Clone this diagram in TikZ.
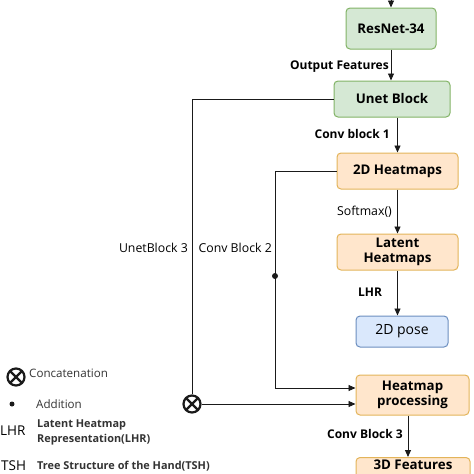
\documentclass[tikz,border=0pt]{standalone}
\usepackage{fontspec}
\setmainfont{Open Sans}
\usetikzlibrary{positioning,arrows.meta}

\definecolor{greenfill}{HTML}{D5E8D4}
\definecolor{greendraw}{HTML}{82B366}
\definecolor{orangefill}{HTML}{FFE6CC}
\definecolor{orangedraw}{HTML}{E3B45A}
\definecolor{bluefill}{HTML}{DAE8FC}
\definecolor{bluedraw}{HTML}{6C8EBF}
\definecolor{inkline}{HTML}{1A1A1A}

\begin{document}
\begin{tikzpicture}[
  x=1pt,y=-1pt,
  blockbox/.style={rectangle,rounded corners=4pt,draw,line width=1pt,
                   font=\fontsize{13.3}{15}\selectfont\bfseries,align=center,inner sep=2pt},
  greenbox/.style={blockbox,fill=greenfill,draw=greendraw},
  orangebox/.style={blockbox,fill=orangefill,draw=orangedraw},
  bluebox/.style={blockbox,fill=bluefill,draw=bluedraw,font=\fontsize{14}{16}\selectfont},
  arr/.style={-{Triangle[length=7pt,width=6pt]},line width=0.9pt,draw=inkline},
  wire/.style={line width=0.9pt,draw=inkline},
  edgelabel/.style={font=\fontsize{12}{14}\selectfont\bfseries,anchor=east,inner sep=1pt},
  sidelabel/.style={font=\fontsize{12.3}{14}\selectfont,anchor=east,inner sep=1pt},
  concat/.style={circle,draw=inkline,line width=2.2pt,minimum size=17pt,inner sep=0pt,
                 path picture={\draw[line width=2.2pt,inkline]
                   (path picture bounding box.north west) -- (path picture bounding box.south east)
                   (path picture bounding box.north east) -- (path picture bounding box.south west);}},
  addn/.style={circle,fill=inkline,minimum size=6pt,inner sep=0pt},
  legendtext/.style={font=\fontsize{11.6}{13}\selectfont,text=black!80,anchor=west,inner sep=0pt},
  legendabbr/.style={font=\fontsize{13.5}{15}\selectfont,anchor=west,inner sep=0pt},
  legendnote/.style={font=\fontsize{10.9}{15}\selectfont\bfseries,text=black!80,anchor=west,
                     align=left,inner sep=0pt},
]
\useasboundingbox (0,0) rectangle (474,474);

% Main blocks
\coordinate (input) at (391,-4);
\node[greenbox,minimum width=90pt,minimum height=41pt] (resnet) at (391,28.5) {ResNet-34};
\node[greenbox,minimum width=116pt,minimum height=36pt] (unet) at (392,99) {Unet Block};
\node[orangebox,minimum width=121pt,minimum height=36pt] (heat2d) at (397.5,171) {2D Heatmaps};
\node[orangebox,minimum width=121pt,minimum height=36pt] (latent) at (397.5,252) {Latent\\Heatmaps};
\node[bluebox,minimum width=92pt,minimum height=31pt] (pose2d) at (402,331.5) {2D pose};
\node[orangebox,minimum width=113pt,minimum height=40pt] (hproc) at (412.5,395) {Heatmap\\processing};
\node[orangebox,minimum width=114pt,minimum height=40pt,anchor=north] (feat3d) at (413,457) {3D Features\\[14pt]};

% Merge points
\node[concat] (cat) at (192,404) {};
\node[addn] (add) at (275,276) {};

% Arrows down the main path
\draw[arr] (input) -- (resnet.north);
\draw[arr] (resnet.south) -- (resnet.south |- unet.north);
\draw[arr] (heat2d.north |- unet.south) -- (heat2d.north);
\draw[arr] (heat2d.south) -- (latent.north);
\draw[arr] (latent.south) -- (latent.south |- pose2d.north);
\draw[arr] (hproc.south -| 408,0) -- (feat3d.north -| 408,0);

% Skip connections
\draw[wire] (unet.west) -| (cat.north);
\draw[wire] (heat2d.west) -| (add.center);
\draw[arr] (add.center) |- ([yshift=7pt]hproc.west);
\draw[arr] (cat.east) -- (cat.east -| hproc.west);

% Labels
\node[edgelabel] at (390,67) {Output Features};
\node[edgelabel] at (391,134) {Conv block 1};
\node[sidelabel] at (393,212) {Softmax()};
\node[edgelabel,anchor=center] at (370,292) {LHR};
\node[edgelabel] at (404,434) {Conv Block 3};
\node[sidelabel] at (189,248) {UnetBlock 3};
\node[sidelabel] at (273,248) {Conv Block 2};

% Legend
\node[concat] (catkey) at (16,377) {};
\node[legendtext] (catnote) at (29,373) {Concatenation};
\node[addn,minimum size=5pt] (addkey) at (12,404) {};
\node[legendtext] (addnote) at (36,404) {Addition};
\node[legendabbr] (lhrkey) at (0,431) {LHR};
\node[legendnote,anchor=north west] (lhrnote) at (37,420) {Latent Heatmap\\Representation(LHR)};
\node[legendabbr] (tshkey) at (1,466) {TSH};
\node[legendnote] (tshnote) at (37,466) {Tree Structure of the Hand(TSH)};

\end{tikzpicture}
\end{document}
